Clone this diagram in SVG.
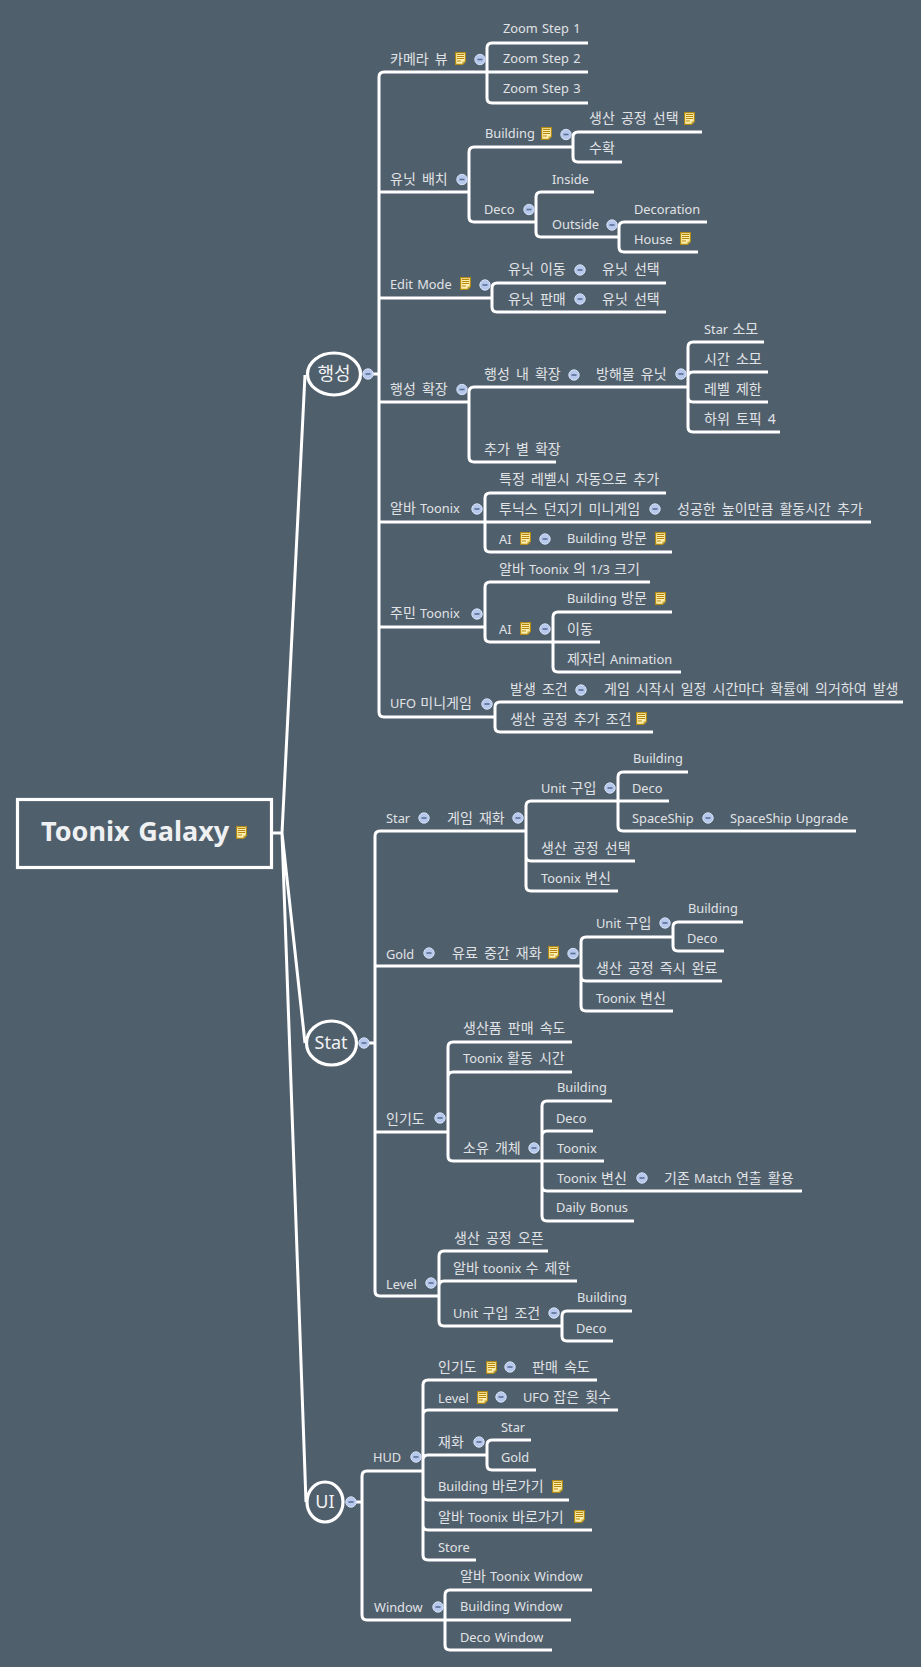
<svg xmlns="http://www.w3.org/2000/svg" width="921" height="1667" viewBox="0 0 921 1667">
<style>
text{font-family:"Noto Sans","Noto Sans CJK KR",sans-serif;font-size:12.8px;fill:#e0e3e6;word-spacing:1px}
.k{font-size:14px;word-spacing:2.5px}
.root{font-size:27px;font-weight:700;fill:#eef0f2;word-spacing:1.5px}
.main{font-size:18px;text-anchor:middle;fill:#f0f2f4}
.shape{fill:none;stroke:#fff;stroke-width:3.2}
#connectors path{fill:none;stroke:#fff;stroke-width:3}
</style>
<defs>
<g id="note"><path d="M.6 .6H10.400V9.500L7.500 12.400H.6Z" fill="#fdf0b0" stroke="#b08a14" stroke-width="1.200"/><path d="M2 2.500H9M2 4.500H9M2 6.500H9" stroke="#b8860b" stroke-width="1.100"/><path d="M2 9H6" stroke="#b8860b"/><path d="M7.500 12.400V9.500H10.400Z" fill="#c9a63a"/></g>
<g id="minus"><circle r="5.200" fill="#b6c9ec" stroke="#d4e0f6" stroke-width="1"/><path d="M-2.500 0H2.500" stroke="#5a6f94" stroke-width="1.600"/></g>
</defs>
<rect width="921" height="1667" fill="#505f6c"/>
<g id="connectors">
<path d="M273 833H282M282 833L305 375M282 833L305 1043M282 833L306 1502"/>
<path d="M372 374H379M379 374V77Q379 72 384 72H487M379 374V712Q379 717 384 717H495"/>
<path d="M379 192H469M379 298H492M379 402H469M379 522H485M379 627H485"/>
<path d="M487 72V48Q487 43 492 43H588M487 72H588M487 72V98Q487 103 492 103H588"/>
<path d="M469 192V152Q469 147 474 147H573M469 192V217Q469 222 474 222H536"/>
<path d="M573 147V137Q573 132 578 132H702M573 147V157Q573 162 578 162H622"/>
<path d="M536 222V197Q536 192 541 192H594M536 222V232Q536 237 541 237H619"/>
<path d="M619 237V227Q619 222 624 222H707M619 237V247Q619 252 624 252H698"/>
<path d="M492 298V288Q492 283 497 283H666M492 298V307Q492 312 497 312H666"/>
<path d="M469 402V392Q469 387 474 387H688M469 402V457Q469 462 474 462H556"/>
<path d="M688 387V347Q688 342 693 342H764M688 387V377Q688 372 693 372H768M688 387V397Q688 402 693 402H768M688 387V427Q688 432 693 432H780"/>
<path d="M485 522V498Q485 493 490 493H666M485 522H871M485 522V547Q485 552 490 552H672"/>
<path d="M485 627V587Q485 582 490 582H650M485 627V637Q485 642 490 642H600"/>
<path d="M553 642V617Q553 612 558 612H672M553 642V667Q553 672 558 672H681"/>
<path d="M495 717V707Q495 702 500 702H903M495 717V727Q495 732 500 732H653"/>
<path d="M368 1043H375M375 1043V836Q375 831 380 831H526M375 1043V1291Q375 1296 380 1296H439M375 966H581M375 1132H448"/>
<path d="M526 831V806Q526 801 531 801H618M526 831V856Q526 861 531 861H635M526 831V886Q526 891 531 891H618"/>
<path d="M618 801V777Q618 772 623 772H688M618 801H669M618 801V826Q618 831 623 831H856"/>
<path d="M581 966V942Q581 937 586 937H673M581 966V976Q581 981 586 981H722M581 966V1006Q581 1011 586 1011H673"/>
<path d="M673 937V927Q673 922 678 922H743M673 937V946Q673 951 678 951H724"/>
<path d="M448 1132V1047Q448 1042 453 1042H572M448 1132V1077Q448 1072 453 1072H572M448 1132V1156Q448 1161 453 1161H542"/>
<path d="M542 1161V1106Q542 1101 547 1101H612M542 1161V1136Q542 1131 547 1131H593M542 1161H604M542 1161V1186Q542 1191 547 1191H802M542 1161V1216Q542 1221 547 1221H634"/>
<path d="M439 1296V1256Q439 1251 444 1251H548M439 1296V1286Q439 1281 444 1281H577M439 1296V1321Q439 1326 444 1326H562"/>
<path d="M562 1326V1316Q562 1311 567 1311H632M562 1326V1336Q562 1341 567 1341H613"/>
<path d="M356 1502H362M362 1502V1476Q362 1471 367 1471H423M362 1502V1615Q362 1620 367 1620H571"/>
<path d="M423 1471V1385Q423 1380 428 1380H597M423 1471V1415Q423 1410 428 1410H618M423 1471V1460Q423 1455 428 1455H487M423 1471V1495Q423 1500 428 1500H569M423 1471V1525Q423 1530 428 1530H592M423 1471V1555Q423 1560 428 1560H476"/>
<path d="M487 1455V1445Q487 1440 492 1440H531M487 1455V1465Q487 1470 492 1470H536"/>
<path d="M445 1620V1595Q445 1590 450 1590H592M445 1620V1645Q445 1650 450 1650H552"/>
</g>
<g id="root"><rect class="shape" x="17.500" y="799.500" width="254" height="68"/><text class="root" x="41" y="841">Toonix Galaxy</text><use href="#note" x="236" y="826"/></g>
<g id="hs"><ellipse class="shape" cx="334" cy="374" rx="26.500" ry="21"/><text class="main" x="334" y="380">행성</text><use href="#minus" x="368" y="374"/></g>
<g id="stat"><ellipse class="shape" cx="331.500" cy="1043" rx="25" ry="22"/><text class="main" x="331" y="1049">Stat</text><use href="#minus" x="364" y="1043"/></g>
<g id="ui"><ellipse class="shape" cx="325" cy="1502" rx="18" ry="20"/><text class="main" x="325" y="1508">UI</text><use href="#minus" x="351" y="1502"/></g>

<g id="n-camera"><text class="k" x="390" y="64">카메라 뷰</text><use href="#note" x="455" y="52"/><use href="#minus" x="480" y="59.500"/></g>
<g id="n-zoom1"><text x="503" y="33">Zoom Step 1</text></g>
<g id="n-zoom2"><text x="503" y="63">Zoom Step 2</text></g>
<g id="n-zoom3"><text x="503" y="93">Zoom Step 3</text></g>
<g id="n-place"><text class="k" x="390" y="184">유닛 배치</text><use href="#minus" x="462" y="179.500"/></g>
<g id="n-building"><text x="485" y="138">Building</text><use href="#note" x="541" y="127"/><use href="#minus" x="566" y="134.500"/></g>
<g id="n-process"><text class="k" x="589" y="123">생산 공정 선택</text><use href="#note" x="684" y="112"/></g>
<g id="n-harvest"><text class="k" x="589" y="153">수확</text></g>
<g id="n-deco"><text x="484" y="214">Deco</text><use href="#minus" x="529" y="209.500"/></g>
<g id="n-inside"><text x="552" y="184">Inside</text></g>
<g id="n-outside"><text x="552" y="229">Outside</text><use href="#minus" x="612" y="225"/></g>
<g id="n-decoration"><text x="634" y="214">Decoration</text></g>
<g id="n-house"><text x="634" y="244">House</text><use href="#note" x="680" y="232"/></g>
<g id="n-edit"><text x="390" y="289">Edit Mode</text><use href="#note" x="460" y="277"/><use href="#minus" x="485" y="285"/></g>
<g id="n-move"><text class="k" x="508" y="274">유닛 이동</text><use href="#minus" x="580" y="270"/></g>
<g id="n-movesel"><text class="k" x="602" y="274">유닛 선택</text></g>
<g id="n-sell"><text class="k" x="508" y="304">유닛 판매</text><use href="#minus" x="580" y="299"/></g>
<g id="n-sellsel"><text class="k" x="602" y="304">유닛 선택</text></g>
<g id="n-expand"><text class="k" x="390" y="394">행성 확장</text><use href="#minus" x="462" y="389.500"/></g>
<g id="n-inner"><text class="k" x="484" y="379">행성 내 확장</text><use href="#minus" x="574" y="375"/></g>
<g id="n-obstacle"><text class="k" x="596" y="379">방해물 유닛</text><use href="#minus" x="681" y="374"/></g>
<g id="n-starc"><text x="704" y="334">Star <tspan class="k">소모</tspan></text></g>
<g id="n-timec"><text class="k" x="704" y="364">시간 소모</text></g>
<g id="n-levelc"><text class="k" x="704" y="394">레벨 제한</text></g>
<g id="n-sub4"><text class="k" x="704" y="424">하위 토픽 4</text></g>
<g id="n-addstar"><text class="k" x="484" y="454">추가 별 확장</text></g>
<g id="n-alpha"><text x="390" y="513"><tspan class="k">알바</tspan> Toonix</text><use href="#minus" x="477" y="509"/></g>
<g id="n-auto"><text class="k" x="499" y="484">특정 레벨시 자동으로 추가</text></g>
<g id="n-throw"><text class="k" x="499" y="514">투닉스 던지기 미니게임</text><use href="#minus" x="655" y="509"/></g>
<g id="n-success"><text class="k" x="677" y="514">성공한 높이만큼 활동시간 추가</text></g>
<g id="n-ai1"><text x="499" y="544">AI</text><use href="#note" x="520" y="532"/><use href="#minus" x="545" y="539"/></g>
<g id="n-visit1"><text x="567" y="543">Building <tspan class="k">방문</tspan></text><use href="#note" x="655" y="532"/></g>
<g id="n-resident"><text x="390" y="618"><tspan class="k">주민</tspan> Toonix</text><use href="#minus" x="477" y="614"/></g>
<g id="n-size"><text x="499" y="574"><tspan class="k">알바</tspan> Toonix <tspan class="k">의</tspan> 1/3 <tspan class="k">크기</tspan></text></g>
<g id="n-ai2"><text x="499" y="634">AI</text><use href="#note" x="520" y="622"/><use href="#minus" x="545" y="629"/></g>
<g id="n-visit2"><text x="567" y="603">Building <tspan class="k">방문</tspan></text><use href="#note" x="655" y="592"/></g>
<g id="n-walk"><text class="k" x="567" y="634">이동</text></g>
<g id="n-anim"><text x="567" y="664"><tspan class="k">제자리</tspan> Animation</text></g>
<g id="n-ufo"><text x="390" y="708">UFO <tspan class="k">미니게임</tspan></text><use href="#minus" x="487" y="704"/></g>
<g id="n-cond"><text class="k" x="510" y="694">발생 조건</text><use href="#minus" x="581" y="690"/></g>
<g id="n-condtext"><text class="k" x="604" y="694">게임 시작시 일정 시간마다 확률에 의거하여 발생</text></g>
<g id="n-addcond"><text class="k" x="510" y="724">생산 공정 추가 조건</text><use href="#note" x="636" y="712"/></g>

<g id="n-star"><text x="386" y="823">Star</text><use href="#minus" x="424" y="818"/></g>
<g id="n-game"><text class="k" x="447" y="823">게임 재화</text><use href="#minus" x="518" y="818"/></g>
<g id="n-unit1"><text x="541" y="793">Unit <tspan class="k">구입</tspan></text><use href="#minus" x="610" y="788"/></g>
<g id="n-b1"><text x="633" y="763">Building</text></g>
<g id="n-d1"><text x="632" y="793">Deco</text></g>
<g id="n-ship"><text x="632" y="823">SpaceShip</text><use href="#minus" x="708" y="818"/></g>
<g id="n-shipup"><text x="730" y="823">SpaceShip Upgrade</text></g>
<g id="n-proc2"><text class="k" x="541" y="853">생산 공정 선택</text></g>
<g id="n-trans1"><text x="541" y="883">Toonix <tspan class="k">변신</tspan></text></g>
<g id="n-gold"><text x="386" y="959">Gold</text><use href="#minus" x="429" y="953"/></g>
<g id="n-paid"><text class="k" x="452" y="958">유료 중간 재화</text><use href="#note" x="548" y="946"/><use href="#minus" x="573" y="953.500"/></g>
<g id="n-unit2"><text x="596" y="928">Unit <tspan class="k">구입</tspan></text><use href="#minus" x="665" y="923"/></g>
<g id="n-b2"><text x="688" y="913">Building</text></g>
<g id="n-d2"><text x="687" y="943">Deco</text></g>
<g id="n-instant"><text class="k" x="596" y="973">생산 공정 즉시 완료</text></g>
<g id="n-trans2"><text x="596" y="1003">Toonix <tspan class="k">변신</tspan></text></g>
<g id="n-pop"><text class="k" x="386" y="1124">인기도</text><use href="#minus" x="440" y="1118"/></g>
<g id="n-speed"><text class="k" x="463" y="1033">생산품 판매 속도</text></g>
<g id="n-active"><text x="463" y="1063">Toonix <tspan class="k">활동 시간</tspan></text></g>
<g id="n-own"><text class="k" x="463" y="1153">소유 개체</text><use href="#minus" x="534" y="1148"/></g>
<g id="n-b3"><text x="557" y="1092">Building</text></g>
<g id="n-d3"><text x="556" y="1123">Deco</text></g>
<g id="n-toonix"><text x="557" y="1153">Toonix</text></g>
<g id="n-trans3"><text x="557" y="1183">Toonix <tspan class="k">변신</tspan></text><use href="#minus" x="642" y="1178"/></g>
<g id="n-match"><text x="664" y="1183"><tspan class="k">기존</tspan> Match <tspan class="k">연출 활용</tspan></text></g>
<g id="n-daily"><text x="556" y="1212">Daily Bonus</text></g>
<g id="n-level"><text x="386" y="1289">Level</text><use href="#minus" x="431" y="1283"/></g>
<g id="n-open"><text class="k" x="454" y="1243">생산 공정 오픈</text></g>
<g id="n-limit"><text x="453" y="1273"><tspan class="k">알바</tspan> toonix <tspan class="k">수 제한</tspan></text></g>
<g id="n-unit3"><text x="453" y="1318">Unit <tspan class="k">구입 조건</tspan></text><use href="#minus" x="554" y="1313"/></g>
<g id="n-b4"><text x="577" y="1302">Building</text></g>
<g id="n-d4"><text x="576" y="1333">Deco</text></g>

<g id="n-hud"><text x="373" y="1462">HUD</text><use href="#minus" x="416" y="1457"/></g>
<g id="n-pop2"><text class="k" x="438" y="1372">인기도</text><use href="#note" x="486" y="1361"/><use href="#minus" x="510" y="1367"/></g>
<g id="n-salespeed"><text class="k" x="532" y="1372">판매 속도</text></g>
<g id="n-level2"><text x="438" y="1403">Level</text><use href="#note" x="477" y="1391"/><use href="#minus" x="501" y="1397"/></g>
<g id="n-ufocount"><text x="523" y="1402">UFO <tspan class="k">잡은 횟수</tspan></text></g>
<g id="n-money"><text class="k" x="438" y="1447">재화</text><use href="#minus" x="479" y="1442"/></g>
<g id="n-star2"><text x="501" y="1432">Star</text></g>
<g id="n-gold2"><text x="501" y="1462">Gold</text></g>
<g id="n-bshort"><text x="438" y="1491">Building <tspan class="k">바로가기</tspan></text><use href="#note" x="552" y="1480"/></g>
<g id="n-ashort"><text x="438" y="1522"><tspan class="k">알바</tspan> Toonix <tspan class="k">바로가기</tspan></text><use href="#note" x="574" y="1510"/></g>
<g id="n-store"><text x="438" y="1552">Store</text></g>
<g id="n-window"><text x="374" y="1612">Window</text><use href="#minus" x="438" y="1607"/></g>
<g id="n-awin"><text x="460" y="1581"><tspan class="k">알바</tspan> Toonix Window</text></g>
<g id="n-bwin"><text x="460" y="1611">Building Window</text></g>
<g id="n-dwin"><text x="460" y="1642">Deco Window</text></g>
</svg>
